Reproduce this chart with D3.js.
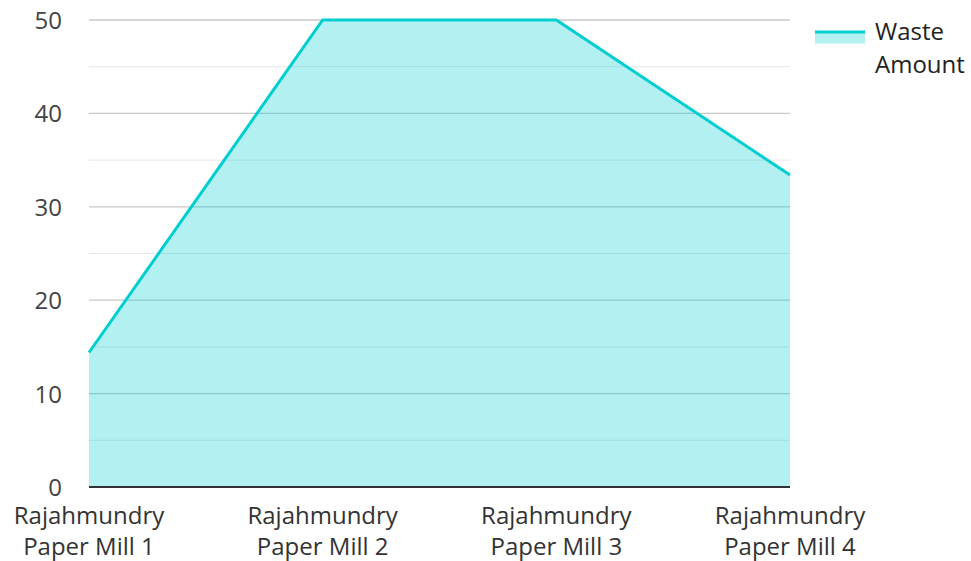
<!DOCTYPE html>
<html>
<head>
<meta charset="utf-8">
<script src="https://cdn.jsdelivr.net/npm/d3@7"></script>
<style>
  body { margin: 0; background: #fff; }
  text { font-family: "Open Sans", sans-serif; }
</style>
</head>
<body>
<div id="vis"></div>
<script>
var mills = ["Rajahmundry Paper Mill 1", "Rajahmundry Paper Mill 2",
             "Rajahmundry Paper Mill 3", "Rajahmundry Paper Mill 4"];
var waste = [14.4, 50, 50, 33.4];
var yTicks = [0, 10, 20, 30, 40, 50];
var seriesName = ["Waste", "Amount"];

var elem_width = 971;
var elem_height = 561;
var margin = { left: 89, right: 181, top: 20, bottom: 74 };

var svg = d3.select("#vis")
    .append("svg")
    .attr("width", elem_width)
    .attr("height", elem_height);

var x = d3.scalePoint()
    .domain(mills)
    .range([margin.left, elem_width - margin.right]);

var y = d3.scaleLinear()
    .domain([0, 50])
    .range([elem_height - margin.bottom, margin.top]);

var lineCol = "#00ced1";
var fillCol = "rgba(0, 206, 209, 0.3)";

// minor grid
svg.append("g")
  .selectAll("line")
  .data(d3.range(5, 50, 10))
  .enter().append("line")
  .attr("x1", margin.left).attr("x2", elem_width - margin.right)
  .attr("y1", function(d) { return y(d); })
  .attr("y2", function(d) { return y(d); })
  .attr("stroke", "#e6e6e6")
  .attr("stroke-width", 1);

// major grid
svg.append("g")
  .selectAll("line")
  .data(yTicks.slice(1))
  .enter().append("line")
  .attr("x1", margin.left).attr("x2", elem_width - margin.right)
  .attr("y1", function(d) { return y(d); })
  .attr("y2", function(d) { return y(d); })
  .attr("stroke", "#c8c8c8")
  .attr("stroke-width", 1.3);

var pts = mills.map(function(m, i) { return [m, waste[i]]; });

svg.append("path")
  .datum(pts)
  .attr("fill", fillCol)
  .attr("d", d3.area()
    .x(function(d) { return x(d[0]); })
    .y0(y(0))
    .y1(function(d) { return y(d[1]); }));

svg.append("path")
  .datum(pts)
  .attr("fill", "none")
  .attr("stroke", lineCol)
  .attr("stroke-width", 3)
  .attr("d", d3.line()
    .x(function(d) { return x(d[0]); })
    .y(function(d) { return y(d[1]); }));

// x axis line
svg.append("line")
  .attr("x1", margin.left).attr("x2", elem_width - margin.right)
  .attr("y1", y(0)).attr("y2", y(0))
  .attr("stroke", "#333")
  .attr("stroke-width", 2);

// y tick labels
svg.append("g")
  .selectAll("text")
  .data(yTicks)
  .enter().append("text")
  .attr("x", 62)
  .attr("y", function(d) { return y(d) + 9; })
  .attr("text-anchor", "end")
  .attr("font-size", 24)
  .attr("fill", "#444")
  .text(function(d) { return d; });

// x labels (two lines)
var xl = svg.append("g")
  .selectAll("text")
  .data(mills)
  .enter().append("text")
  .attr("text-anchor", "middle")
  .attr("font-size", 24)
  .attr("fill", "#333");
xl.append("tspan")
  .attr("x", function(d) { return x(d); })
  .attr("y", 524)
  .text(function(d) { return d.split(" ")[0]; });
xl.append("tspan")
  .attr("x", function(d) { return x(d); })
  .attr("y", 555)
  .text(function(d) { return d.split(" ").slice(1).join(" "); });

// legend
var lg = svg.append("g");
lg.append("rect")
  .attr("x", 815).attr("y", 31).attr("width", 50).attr("height", 12.5)
  .attr("fill", fillCol);
lg.append("line")
  .attr("x1", 815).attr("x2", 865).attr("y1", 32).attr("y2", 32)
  .attr("stroke", lineCol).attr("stroke-width", 3);
lg.append("text")
  .selectAll("tspan")
  .data(seriesName)
  .enter().append("tspan")
  .attr("x", 875)
  .attr("y", function(d, i) { return 40 + i * 32.5; })
  .attr("font-size", 24)
  .attr("fill", "#222")
  .text(function(d) { return d; });
</script>
</body>
</html>
